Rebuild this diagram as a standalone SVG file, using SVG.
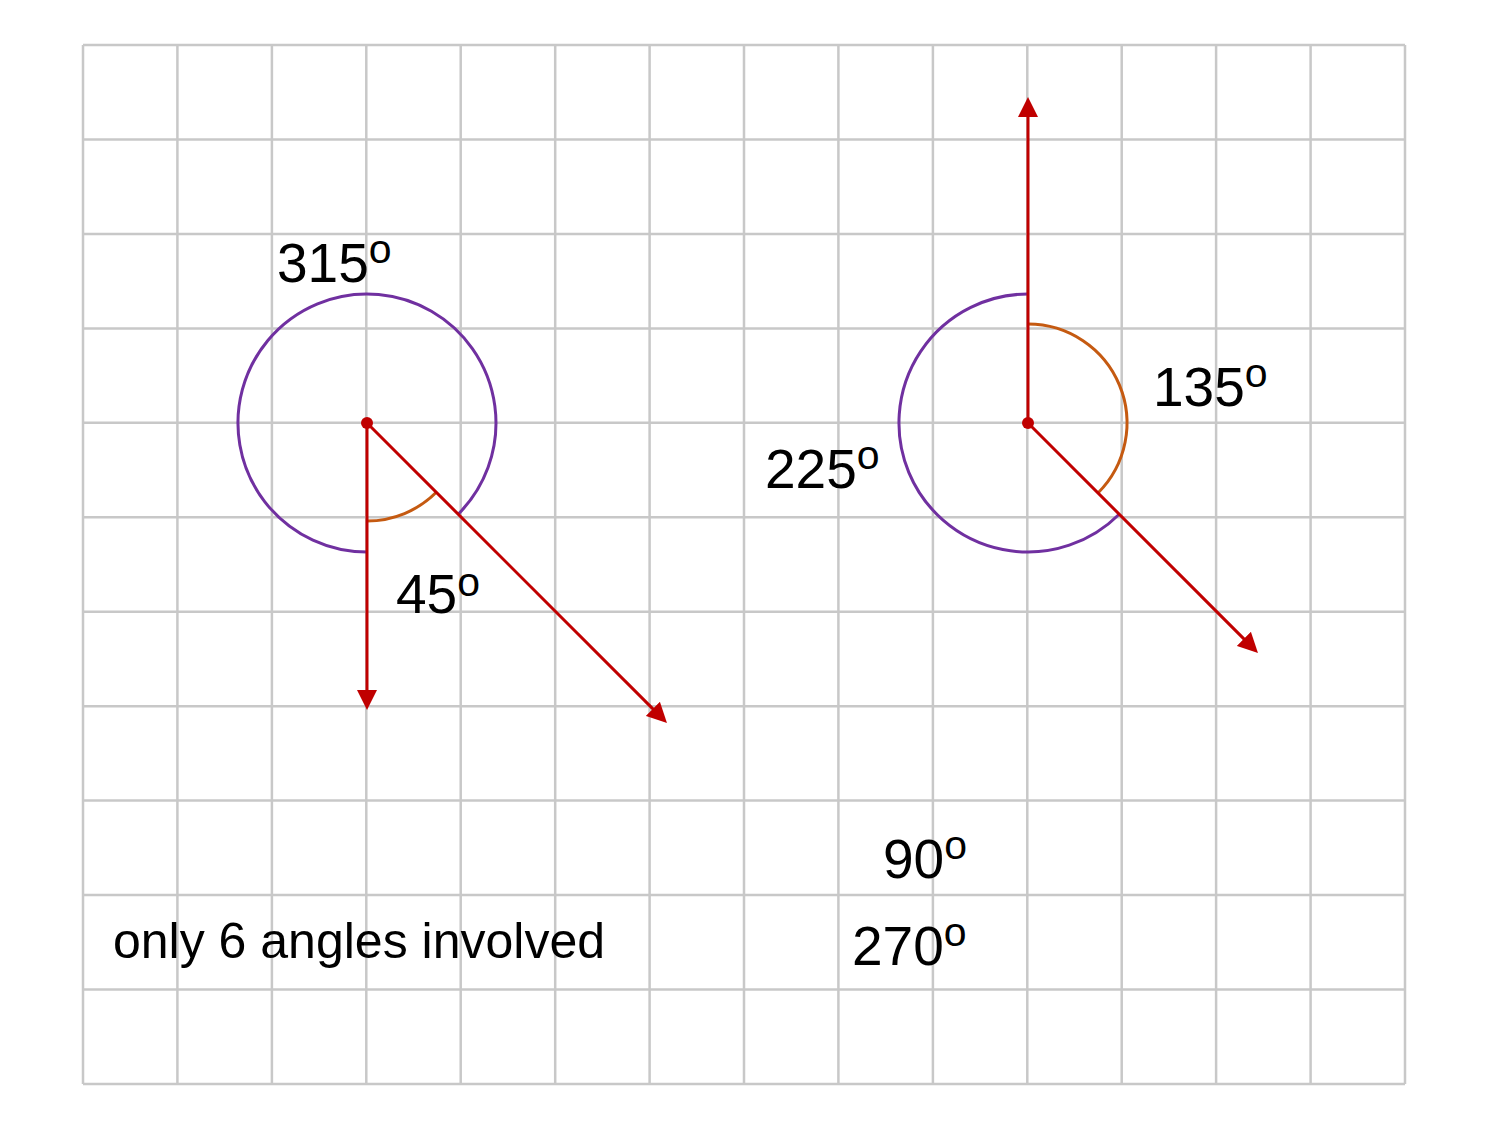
<svg xmlns="http://www.w3.org/2000/svg" width="1500" height="1125" viewBox="0 0 1500 1125">
<style>
.grid line{stroke:#c8c8c8;stroke-width:2.5}
.ray{stroke:#c00000;stroke-width:3;fill:none}
.big{fill:none;stroke:#7030a0;stroke-width:3}
.small{fill:none;stroke:#c55a11;stroke-width:3}
.lbl{font-family:"Liberation Sans",Arial,sans-serif;font-size:55px;fill:#000}
.sup{font-size:41px}
.note{font-family:"Liberation Sans",Arial,sans-serif;font-size:50px;fill:#000}
</style>
<defs>
<marker id="ah" markerUnits="userSpaceOnUse" markerWidth="20" markerHeight="20" refX="10" refY="10" orient="auto" viewBox="0 0 20 20">
<path d="M0,0 L20,10 L0,20 z" fill="#c00000"/>
</marker>
</defs>
<rect width="1500" height="1125" fill="#fff"/>
<g class="grid">
<line x1="83" y1="45" x2="83" y2="1084"/>
<line x1="177.4" y1="45" x2="177.4" y2="1084"/>
<line x1="271.9" y1="45" x2="271.9" y2="1084"/>
<line x1="366.3" y1="45" x2="366.3" y2="1084"/>
<line x1="460.7" y1="45" x2="460.7" y2="1084"/>
<line x1="555.2" y1="45" x2="555.2" y2="1084"/>
<line x1="649.6" y1="45" x2="649.6" y2="1084"/>
<line x1="744" y1="45" x2="744" y2="1084"/>
<line x1="838.4" y1="45" x2="838.4" y2="1084"/>
<line x1="932.9" y1="45" x2="932.9" y2="1084"/>
<line x1="1027.3" y1="45" x2="1027.3" y2="1084"/>
<line x1="1121.7" y1="45" x2="1121.7" y2="1084"/>
<line x1="1216.1" y1="45" x2="1216.1" y2="1084"/>
<line x1="1310.6" y1="45" x2="1310.6" y2="1084"/>
<line x1="1405" y1="45" x2="1405" y2="1084"/>
<line x1="83" y1="45" x2="1405" y2="45"/>
<line x1="83" y1="139.5" x2="1405" y2="139.5"/>
<line x1="83" y1="233.9" x2="1405" y2="233.9"/>
<line x1="83" y1="328.4" x2="1405" y2="328.4"/>
<line x1="83" y1="422.8" x2="1405" y2="422.8"/>
<line x1="83" y1="517.3" x2="1405" y2="517.3"/>
<line x1="83" y1="611.7" x2="1405" y2="611.7"/>
<line x1="83" y1="706.2" x2="1405" y2="706.2"/>
<line x1="83" y1="800.6" x2="1405" y2="800.6"/>
<line x1="83" y1="895.1" x2="1405" y2="895.1"/>
<line x1="83" y1="989.5" x2="1405" y2="989.5"/>
<line x1="83" y1="1084" x2="1405" y2="1084"/>
</g>
<g id="left-angle">
<path class="big" d="M367,552 A129,129 0 1 1 458.2,514.2"/>
<path class="small" d="M367,521 A98,98 0 0 0 436.3,492.3"/>
</g>
<g id="right-angle">
<path class="big" d="M1028,294 A129,129 0 1 0 1119.2,514.2"/>
<path class="small" d="M1028,324 A99,99 0 0 1 1098,493"/>
</g>
<g id="connectors">
<line class="ray" x1="367" y1="423" x2="367" y2="700" marker-end="url(#ah)"/>
<line class="ray" x1="367" y1="423" x2="659.9" y2="715.9" marker-end="url(#ah)"/>
<line class="ray" x1="1028" y1="423" x2="1028" y2="107" marker-end="url(#ah)"/>
<line class="ray" x1="1028" y1="423" x2="1250.9" y2="645.9" marker-end="url(#ah)"/>
</g>
<g id="centers" fill="#c00000">
<circle cx="367" cy="423" r="6"/>
<circle cx="1028" cy="423" r="6"/>
</g>
<g id="labels">
<text class="lbl" x="277" y="282">315<tspan class="sup" dy="-19">o</tspan></text>
<text class="lbl" x="396" y="613">45<tspan class="sup" dy="-17">o</tspan></text>
<text class="lbl" x="1153" y="406">135<tspan class="sup" dy="-19">o</tspan></text>
<text class="lbl" x="765" y="488">225<tspan class="sup" dy="-19">o</tspan></text>
<text class="lbl" x="883" y="878">90<tspan class="sup" dy="-19">o</tspan></text>
<text class="lbl" x="852" y="965">270<tspan class="sup" dy="-19">o</tspan></text>
<text class="note" x="113" y="958">only 6 angles involved</text>
</g>
</svg>
